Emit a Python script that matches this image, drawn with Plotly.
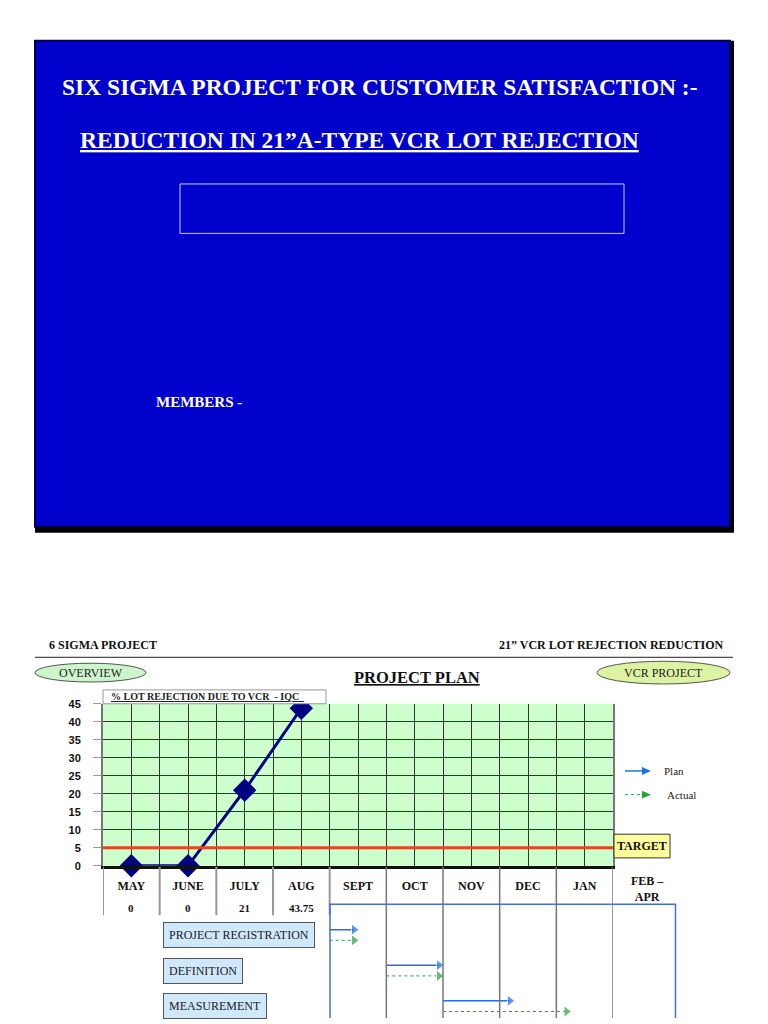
import plotly.graph_objects as go

# chart data
months = ["MAY", "JUNE", "JULY", "AUG", "SEPT", "OCT", "NOV", "DEC", "JAN"]
rejection_pct = [0, 0, 21, 43.75]
rejection_text = ["0", "0", "21", "43.75"]
target_pct = 5
y_ticks = [0, 5, 10, 15, 20, 25, 30, 35, 40, 45]

# project plan (month index, MAY = 0)
tasks = ["PROJECT REGISTRATION", "DEFINITION", "MEASUREMENT"]
plan_start = [3.5, 4.5, 5.5]
plan_end = [4.0, 5.5, 6.75]
actual_start = [3.5, 4.5, 5.5]
actual_end = [4.0, 5.5, 7.75]

SERIF = "Liberation Serif"
SANS = "Liberation Sans"
BLUE_SLIDE = "#0000cc"
PLAN_BLUE = "#1f6fe8"
ACTUAL_GREEN = "#2e9e3a"

# the page body keeps its default 8px margin, so the figure starts at (8, 8)
OFF = 8
W, H = 768 - OFF, 1024 - OFF


def X(p):
    return (p - OFF) / W


def Y(p):
    return 1 - (p - OFF) / H


def label(x, y, text, size, color="#111", bold=False, family=SERIF,
          xanchor="center", **kw):
    font = dict(family=family, size=size, color=color)
    if bold:
        font["weight"] = "bold"
    d = dict(x=x, y=y, xref="paper", yref="paper", text=text,
             xanchor=xanchor, yanchor="middle", showarrow=False, font=font)
    d.update(kw)
    return d


fig = go.Figure()

# rejection trend
fig.add_trace(go.Scatter(
    x=list(range(len(rejection_pct))), y=rejection_pct,
    mode="lines+markers", cliponaxis=False, hoverinfo="skip",
    line=dict(color="#000080", width=3),
    marker=dict(symbol="diamond", size=18, color="#000080"),
    showlegend=False
))

# plan / actual arrows on the gantt strip
for i in range(len(tasks)):
    fig.add_trace(go.Scatter(
        x=[plan_start[i], plan_end[i]], y=[i - 0.15, i - 0.15],
        xaxis="x2", yaxis="y2", mode="lines+markers", hoverinfo="skip",
        line=dict(color=PLAN_BLUE, width=1.5),
        marker=dict(symbol="triangle-up", angleref="previous", size=[0, 10],
                    standoff=4, color=PLAN_BLUE),
        showlegend=False
    ))
    fig.add_trace(go.Scatter(
        x=[actual_start[i], actual_end[i]], y=[i + 0.15, i + 0.15],
        xaxis="x2", yaxis="y2", mode="lines+markers", hoverinfo="skip",
        line=dict(color=ACTUAL_GREEN, width=1, dash="dot"),
        marker=dict(symbol="triangle-up", angleref="previous", size=[0, 10],
                    standoff=4, color=ACTUAL_GREEN),
        showlegend=False
    ))

shapes = []
annotations = []

# ---- top slide ----
shapes.append(dict(type="rect", xref="paper", yref="paper",
                   x0=X(35), x1=X(734), y0=Y(533), y1=Y(35),
                   fillcolor="#000000", line=dict(width=0)))
shapes.append(dict(type="rect", xref="paper", yref="paper",
                   x0=X(35), x1=X(730), y0=Y(527), y1=Y(35),
                   fillcolor=BLUE_SLIDE, line=dict(color="#000044", width=2)))
shapes.append(dict(type="rect", xref="paper", yref="paper",
                   x0=X(180), x1=X(624), y0=Y(230), y1=Y(180),
                   line=dict(color="#ccccff", width=1)))

annotations.append(label(X(60), Y(82), "SIX SIGMA PROJECT FOR CUSTOMER SATISFACTION :-",
                         23.5, "white", True, xanchor="left"))
annotations.append(label(X(78), Y(135), "<u>REDUCTION IN 21\u201dA-TYPE VCR LOT REJECTION</u>",
                         23.5, "white", True, xanchor="left"))
annotations.append(label(X(154), Y(401), "MEMBERS -", 15, "white", True, xanchor="left"))

# ---- second slide header ----
annotations.append(label(X(47), Y(647), "6 SIGMA PROJECT", 12, bold=True, xanchor="left"))
annotations.append(label(X(726), Y(647), "21\u201d VCR LOT REJECTION REDUCTION", 12,
                         bold=True, xanchor="right"))
shapes.append(dict(type="line", xref="paper", yref="paper",
                   x0=X(35), x1=X(733), y0=Y(659), y1=Y(659),
                   line=dict(color="#222", width=1)))

shapes.append(dict(type="circle", xref="paper", yref="paper",
                   x0=X(35), x1=X(146), y0=Y(684), y1=Y(665),
                   fillcolor="#ccf5cc", line=dict(color="#555", width=1)))
annotations.append(label(X(90.5), Y(674.5), "OVERVIEW", 12, "#222"))
shapes.append(dict(type="circle", xref="paper", yref="paper",
                   x0=X(597), x1=X(730), y0=Y(686), y1=Y(663),
                   fillcolor="#ddf3a4", line=dict(color="#555", width=1)))
annotations.append(label(X(663.5), Y(674.5), "VCR PROJECT", 12, "#222"))
annotations.append(label(X(417), Y(679), "<u>PROJECT PLAN</u>", 16.5, bold=True))

# green plot background (only for the chart subplot)
shapes.append(dict(type="rect", xref="x domain", yref="y domain",
                   x0=0, x1=1, y0=0, y1=1, layer="below",
                   fillcolor="#ccffcc", line=dict(width=0)))

# chart title box
shapes.append(dict(type="rect", xref="paper", yref="paper",
                   x0=X(103), x1=X(326), y0=Y(706), y1=Y(692),
                   fillcolor="white", line=dict(color="#999", width=1)))
annotations.append(label(X(109), Y(699), "<u>% LOT REJECTION DUE TO VCR  - IQC  </u>",
                         10, "#222", True, xanchor="left"))

# target line and tag
shapes.append(dict(type="line", xref="x domain", yref="y",
                   x0=0, x1=1, y0=target_pct, y1=target_pct,
                   line=dict(color="#e8451a", width=3)))
shapes.append(dict(type="rect", xref="paper", yref="paper",
                   x0=X(614), x1=X(670), y0=Y(862), y1=Y(838),
                   fillcolor="#ffff99", line=dict(color="#333", width=1)))
annotations.append(label(X(642), Y(850), "TARGET", 12, bold=True))

# legend arrows
shapes.append(dict(type="line", xref="paper", yref="paper",
                   x0=X(625), x1=X(643), y0=Y(774), y1=Y(774),
                   line=dict(color=PLAN_BLUE, width=1.5)))
shapes.append(dict(type="path", xref="paper", yref="paper",
                   path=f"M {X(642)},{Y(770)} L {X(651)},{Y(774)} L {X(642)},{Y(778)} Z",
                   fillcolor=PLAN_BLUE, line=dict(width=0)))
shapes.append(dict(type="line", xref="paper", yref="paper",
                   x0=X(625), x1=X(643), y0=Y(798), y1=Y(798),
                   line=dict(color=ACTUAL_GREEN, width=1, dash="dot")))
shapes.append(dict(type="path", xref="paper", yref="paper",
                   path=f"M {X(642)},{Y(794)} L {X(651)},{Y(798)} L {X(642)},{Y(802)} Z",
                   fillcolor=ACTUAL_GREEN, line=dict(width=0)))
annotations.append(label(X(662), Y(774), "Plan", 11, "#222", xanchor="left"))
annotations.append(label(X(665), Y(798), "Actual", 11, "#222", xanchor="left"))

# month table separators
for i in range(len(months) + 1):
    xv = i - 0.5
    if xv < 4:
        shapes.append(dict(type="line", xref="x", yref="paper",
                           x0=xv, x1=xv, y0=Y(871), y1=Y(920),
                           line=dict(color="#999", width=2)))
    else:
        shapes.append(dict(type="line", xref="x", yref="paper",
                           x0=xv, x1=xv, y0=Y(871), y1=0,
                           line=dict(color="#777", width=1.5)))

for i, t in enumerate(rejection_text):
    annotations.append(dict(x=i, y=Y(913), xref="x", yref="paper",
                            xanchor="center", yanchor="middle",
                            showarrow=False, text=t,
                            font=dict(family=SERIF, size=11, color="#111", weight="bold")))
annotations.append(label(X(647), Y(893), "FEB \u2013<br>APR", 12, bold=True))

# gantt frame
shapes.append(dict(type="path", xref="paper", yref="paper",
                   path=f"M {X(330)},0 L {X(330)},{Y(909)} L {X(675.5)},{Y(909)} L {X(675.5)},0",
                   line=dict(color="#4a6fd0", width=1.5)))

for i, name in enumerate(tasks):
    annotations.append(dict(x=X(163), y=i, xref="paper", yref="y2",
                            xanchor="left", yanchor="middle", showarrow=False,
                            text=name, bgcolor="#cfe8fb", bordercolor="#555",
                            borderwidth=1, borderpad=5,
                            font=dict(family=SERIF, size=12, color="#222")))

# gantt rows: 36px apart, first row centred at y=940 on the page
row_px = 36
gantt_top = 940 - 0.5 * row_px
gantt_bottom_val = -0.5 + (1024 - gantt_top) / row_px

fig.update_layout(
    width=W, height=H,
    margin=dict(l=0, r=0, t=0, b=0),
    paper_bgcolor="white", plot_bgcolor="rgba(0,0,0,0)",
    showlegend=False,
    shapes=shapes, annotations=annotations,
    xaxis=dict(
        domain=[X(103), X(613)], range=[-0.5, len(months) - 0.5],
        tickmode="array", tickvals=list(range(len(months))), ticktext=months,
        ticks="", ticklabelstandoff=7,
        tickfont=dict(family=SERIF, size=12, color="#111", weight="bold"),
        showgrid=True, gridcolor="#333", gridwidth=1,
        minor=dict(tickmode="array", tickvals=[i + 0.5 for i in range(len(months))],
                   showgrid=True, gridcolor="#333", gridwidth=1),
        showline=True, linecolor="#111", linewidth=2.5,
        zeroline=False, fixedrange=True
    ),
    yaxis=dict(
        domain=[Y(870), Y(706)], range=[0, 45],
        tickmode="array", tickvals=y_ticks,
        ticks="outside", ticklen=8, tickcolor="#999", tickwidth=1,
        ticklabelstandoff=10,
        tickfont=dict(family=SANS, size=11, color="#111", weight="bold"),
        showgrid=True, gridcolor="#333", gridwidth=1,
        showline=True, mirror=True, linecolor="#777", linewidth=2,
        zeroline=False, fixedrange=True
    ),
    xaxis2=dict(domain=[X(103), X(613)], range=[-0.5, len(months) - 0.5],
                anchor="y2", visible=False, fixedrange=True),
    yaxis2=dict(domain=[0, Y(gantt_top)], range=[gantt_bottom_val, -0.5],
                anchor="x2", visible=False, fixedrange=True),
)

fig.write_html("out.html")
